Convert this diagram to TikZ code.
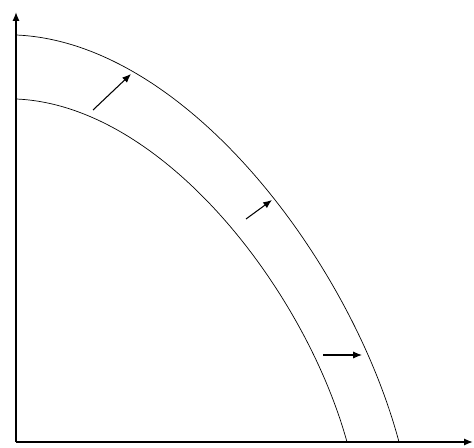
\documentclass[tikz,border=0pt]{standalone}
\usetikzlibrary{arrows.meta}

\begin{document}
\begin{tikzpicture}[x=0.02cm, y=0.02cm, >={Latex[length=5pt,width=4pt]}]
  \useasboundingbox (-16,-5) rectangle (458,442);
  % --- axes ---
  \draw[->, line width=0.9pt] (0,0) -- (0,430);
  \draw[->, line width=0.9pt] (0,0) -- (457,0);
  % --- inner and outer boundaries ---
  \draw[thin] (0,343) .. controls (147,337) and (289,152) .. (331,0);
  \draw[thin] (0,407) .. controls (170,400) and (335,180) .. (383,0);
  % --- arrows across the band ---
  \draw[->, line width=0.6pt] (77,332) -- (115,368);
  \draw[->, line width=0.6pt] (230,223) -- (256,242);
  \draw[->, line width=0.6pt] (307,87) -- (346,87);
\end{tikzpicture}
\end{document}
